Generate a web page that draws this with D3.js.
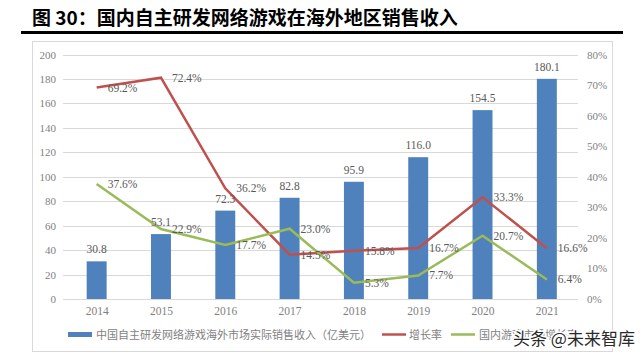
<!DOCTYPE html>
<html><head><meta charset="utf-8">
<script src="https://cdn.jsdelivr.net/npm/d3@7"></script>
<style>body{margin:0;background:#fff;}svg{display:block;}</style>
</head><body>
<svg id="c" width="640" height="357"></svg>
<script>
const years = ["2014","2015","2016","2017","2018","2019","2020","2021"];
const revenue = [30.8, 53.1, 72.3, 82.8, 95.9, 116.0, 154.5, 180.1];
const growth = [69.2, 72.4, 36.2, 14.5, 15.8, 16.7, 33.3, 16.6];
const domestic = [37.6, 22.9, 17.7, 23.0, 5.3, 7.7, 20.7, 6.4];
const leftTicks = [0,20,40,60,80,100,120,140,160,180,200];
const rightTicks = [0,10,20,30,40,50,60,70,80];
const title = "图 30：国内自主研发网络游戏在海外地区销售收入";
const legendLabels = ["中国自主研发网络游戏海外市场实际销售收入（亿美元）","增长率","国内游戏市场增长率"];
const watermark = "头条 @未来智库";

const svg = d3.select("#c");
const serif = "'Liberation Serif','DejaVu Serif',serif";
const cjk = "'Noto Sans CJK SC','Noto Sans',sans-serif";
const C = {bar:"#4F81BD", red:"#C0504D", green:"#9BBB59", grid:"#D9D9D9", axis:"#7F7F7F", lab:"#595959"};

// title
svg.append("text").attr("x",32).attr("y",25).attr("font-family",cjk).attr("font-weight","bold")
  .attr("font-size",19).attr("fill","#000").text(title);
svg.append("rect").attr("x",21).attr("y",31).attr("width",602).attr("height",3).attr("fill","#000");
// box
svg.append("rect").attr("x",32.5).attr("y",41.5).attr("width",580).attr("height",310)
  .attr("fill","none").attr("stroke",C.grid);

const x = d3.scalePoint().domain(years).range([64.5,579]).padding(0.5);
const bw = x.step()*0.31;
const yL = d3.scaleLinear().domain([0,200]).range([299,54.5]);
const yR = d3.scaleLinear().domain([0,80]).range([299,54.5]);

// gridlines
svg.append("g").selectAll("line").data(leftTicks).join("line")
  .attr("x1",63).attr("x2",578).attr("y1",d=>Math.round(yL(d))+0.5).attr("y2",d=>Math.round(yL(d))+0.5)
  .attr("stroke",C.grid);

// left axis
const gl = svg.append("g").attr("transform","translate(63,0)")
  .call(d3.axisLeft(yL).tickValues(leftTicks).tickSize(0).tickPadding(7));
gl.select(".domain").remove();
gl.selectAll("text").attr("font-family",serif).attr("font-size",11).attr("fill",C.axis);
// right axis
const gr = svg.append("g").attr("transform","translate(578,0)")
  .call(d3.axisRight(yR).tickValues(rightTicks).tickSize(0).tickPadding(9).tickFormat(d=>d+"%"));
gr.select(".domain").remove();
gr.selectAll("text").attr("font-family",serif).attr("font-size",11).attr("fill",C.axis);
// x axis labels
const gx = svg.append("g").attr("transform","translate(0,304)")
  .call(d3.axisBottom(x).tickSize(0).tickPadding(3));
gx.select(".domain").remove();
gx.selectAll("text").attr("font-family",serif).attr("font-size",11.5).attr("fill",C.axis);

// bars
svg.append("g").selectAll("rect").data(revenue).join("rect")
  .attr("x",(d,i)=>x(years[i])-bw/2).attr("width",bw)
  .attr("y",d=>yL(d)).attr("height",d=>yL(0)-yL(d)).attr("fill",C.bar);

// lines
const line = d3.line().x((d,i)=>x(years[i])).y(d=>yR(d));
svg.append("path").datum(growth).attr("d",line).attr("fill","none").attr("stroke",C.red).attr("stroke-width",2.5);
svg.append("path").datum(domestic).attr("d",line).attr("fill","none").attr("stroke",C.green).attr("stroke-width",2.5);

// bar labels
svg.append("g").selectAll("text").data(revenue).join("text")
  .attr("x",(d,i)=>x(years[i])).attr("y",d=>yL(d)-8).attr("text-anchor","middle")
  .attr("font-family",serif).attr("font-size",11.5).attr("fill",C.lab).text(d=>d.toFixed(1));
// line labels
[growth,domestic].forEach(s=>{
  svg.append("g").selectAll("text").data(s).join("text")
    .attr("x",(d,i)=>x(years[i])+11).attr("y",d=>yR(d)+4)
    .attr("font-family",serif).attr("font-size",11.5).attr("fill",C.lab).text(d=>d.toFixed(1)+"%");
});

// legend
const lg = svg.append("g");
lg.append("rect").attr("x",68).attr("y",332).attr("width",24).attr("height",5).attr("fill",C.bar);
lg.append("text").attr("x",96).attr("y",339).attr("font-family",cjk).attr("font-size",11).attr("fill",C.axis).text(legendLabels[0]);
lg.append("line").attr("x1",382).attr("x2",406).attr("y1",334.5).attr("y2",334.5).attr("stroke",C.red).attr("stroke-width",2.5);
lg.append("text").attr("x",409).attr("y",339).attr("font-family",cjk).attr("font-size",11).attr("fill",C.axis).text(legendLabels[1]);
lg.append("line").attr("x1",451).attr("x2",475).attr("y1",334.5).attr("y2",334.5).attr("stroke",C.green).attr("stroke-width",2.5);
lg.append("text").attr("x",479).attr("y",339).attr("font-family",cjk).attr("font-size",11).attr("fill",C.axis).text(legendLabels[2]);

// watermark
svg.append("text").attr("x",513).attr("y",345).attr("font-family",cjk).attr("font-size",17)
  .attr("fill","#2a2a2a").attr("stroke","#fff").attr("stroke-width",3).attr("paint-order","stroke")
  .text(watermark);
</script>
</body></html>
